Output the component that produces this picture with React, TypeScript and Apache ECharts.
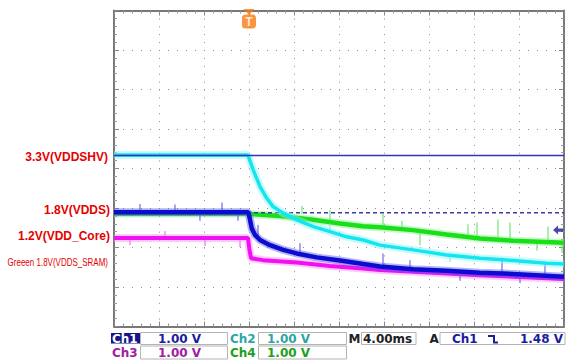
import React, { useEffect, useRef } from "react";
import * as echarts from "echarts";

// Time axis in ms (4.00 ms/div, 10 divisions); vertical axis in screen divisions (1.00 V/div, 8 divisions)

// Ch2 (cyan) 3.3V(VDDSHV)
const ch2Time = [0, 11.91, 12.38, 12.98, 13.57, 14.16, 15.05, 16.24, 17.72, 19.2, 20.68, 22.16, 23.64, 26.58, 29.57, 32.53, 35.47, 38.46, 40];
const ch2Div = [4.34, 4.34, 3.96, 3.54, 3.25, 3.03, 2.87, 2.7, 2.53, 2.4, 2.27, 2.19, 2.06, 1.94, 1.81, 1.73, 1.67, 1.6, 1.58];

// Ch1 (blue) 1.8V(VDDS)
const ch1Time = [0, 11.94, 12.09, 12.24, 12.53, 12.98, 13.87, 15.05, 16.24, 18.02, 20.09, 22.16, 23.64, 26.58, 29.57, 32.53, 35.47, 40];
const ch1Div = [2.89, 2.89, 2.7, 2.49, 2.32, 2.19, 2.06, 1.94, 1.85, 1.75, 1.67, 1.58, 1.52, 1.45, 1.41, 1.36, 1.33, 1.26];

// Ch4 (green) 1.8V(VDDS_SRAM)
const ch4Time = [0, 11.91, 12.09, 14.76, 17.69, 20.09, 22.13, 23.64, 26.58, 29.57, 32.53, 35.47, 40];
const ch4Div = [2.86, 2.86, 2.85, 2.8, 2.7, 2.61, 2.54, 2.51, 2.44, 2.33, 2.23, 2.17, 2.12];

// Ch3 (magenta) 1.2V(VDD_Core)
const ch3Time = [0, 11.91, 12.04, 12.18, 13.24, 16.24, 19.2, 22.13, 23.64, 32.53, 40];
const ch3Div = [2.24, 2.24, 1.94, 1.73, 1.68, 1.62, 1.53, 1.47, 1.43, 1.3, 1.2];

// noise spikes: [time ms, from div, to div]
const ch4Spikes = [
  [16.71, 2.85, 3.05], [19.2, 2.67, 2.95], [23.91, 2.51, 2.85], [25.6, 2.46, 2.68], [27.2, 2.41, 2.06],
  [31.47, 2.28, 2.59], [32.27, 2.25, 2.63], [34.13, 2.2, 2.71], [35.2, 2.18, 2.63], [37.6, 2.15, 1.92],
  [38.58, 2.12, 2.53], [39.82, 2.11, 1.86],
];
const ch1Spikes = [
  [2.31, 2.89, 3.1], [5.42, 2.89, 3.09], [7.64, 2.89, 2.68], [9.6, 2.89, 3.14], [11.02, 2.89, 2.68],
  [12.8, 2.2, 2.57], [16.53, 1.86, 2.11], [23.91, 1.52, 1.85], [26.31, 1.46, 1.68], [30.76, 1.41, 1.16],
  [34.49, 1.36, 1.75], [36.09, 1.33, 1.1], [38.31, 1.3, 1.62],
];
const ch3Spikes = [
  [1.42, 2.24, 2.06], [4.53, 2.24, 2.42], [8.09, 2.24, 2.04], [11.2, 2.24, 2.01],
];
const ch2Spikes = [
  [19.2, 2.4, 2.6], [29.87, 1.81, 1.63],
];

// cursors / markers
const cursorSolidDiv = 4.33;
const cursorDashedDiv = 2.88;
const triggerTime = 12;
const triggerLevelDiv = 2.44;
const triggerArrowTime = 39.47;

const labels = ["3.3V(VDDSHV)", "1.8V(VDDS)", "1.2V(VDD_Core)", "Greeen 1.8V(VDDS_SRAM)"];
const scaleTexts = ["1.00 V", "1.00 V", "1.00 V", "1.00 V"];
const timebase = "4.00ms";
const triggerText = "1.48 V";

const zip = (xs: number[], ys: number[]) => xs.map((x, i) => [x, ys[i]]);

function trace(name: string, xs: number[], ys: number[], core: string, halo: string, coreW: number, z: number) {
  return [
    {
      name: name + "-halo",
      type: "line",
      data: zip(xs, ys),
      showSymbol: false,
      symbol: "none",
      lineStyle: { color: halo, width: 8, opacity: 0.45 },
      z,
      silent: true,
    },
    {
      name,
      type: "line",
      data: zip(xs, ys),
      showSymbol: false,
      symbol: "none",
      lineStyle: { color: core, width: coreW },
      z: z + 0.5,
      silent: true,
    },
  ];
}

function spikes(name: string, data: number[][], color: string, z: number) {
  return {
    name,
    type: "custom",
    z,
    silent: true,
    data,
    renderItem: (_p: any, api: any) => {
      const a = api.coord([api.value(0), api.value(1)]);
      const b = api.coord([api.value(0), api.value(2)]);
      return {
        type: "line",
        shape: { x1: a[0], y1: a[1], x2: b[0], y2: b[1] },
        style: { stroke: color, lineWidth: 1.2 },
      };
    },
  };
}

export default function App() {
  const ref = useRef<HTMLDivElement>(null);
  useEffect(() => {
    if (!ref.current) return;
    const chart = echarts.init(ref.current, null, { renderer: "svg" });
    const frame = "#787878";
    const axisBase = {
      type: "value",
      min: 0,
      axisLabel: { show: false },
      axisLine: { show: true, onZero: false, lineStyle: { color: frame, width: 2 } },
      axisTick: { show: true, inside: true, length: 5, lineStyle: { color: "#888" } },
      minorTick: { show: true, splitNumber: 5, length: 3, lineStyle: { color: "#999" } },
    };
    const statusFont = 'bold 12px "DejaVu Sans"';
    const txt = (text: string, x: number, y: number, fill: string, align = "left") => ({
      type: "text",
      x,
      y,
      z: 100,
      style: { text, fill, font: statusFont, align, verticalAlign: "middle" },
    });
    const box = (x: number, y: number, w: number, h: number) => ({
      type: "rect",
      z: 90,
      shape: { x, y, width: w, height: h },
      style: { fill: "#fff", stroke: "#b4b4b4", lineWidth: 1 },
    });
    const lblFont = 'bold 12px "Liberation Sans"';
    const red = "#e60000";
    chart.setOption({
      animation: false,
      backgroundColor: "#ffffff",
      grid: { left: 114, top: 10.5, width: 450, height: 316, containLabel: false },
      xAxis: [
        {
          ...axisBase,
          max: 40,
          interval: 4,
          position: "bottom",
          splitLine: { show: true, lineStyle: { color: "#8c8c8c", width: 1, type: [1, 6.9] } },
        },
        { ...axisBase, max: 40, interval: 4, position: "top", splitLine: { show: false } },
      ],
      yAxis: [
        {
          ...axisBase,
          max: 8,
          interval: 1,
          position: "left",
          splitLine: { show: true, lineStyle: { color: "#8c8c8c", width: 1, type: [1, 8] } },
        },
        { ...axisBase, max: 8, interval: 1, position: "right", splitLine: { show: false } },
      ],
      series: [
        spikes("Ch3-noise", ch3Spikes, "#f070f0", 1.8),
        ...trace("Ch3", ch3Time, ch3Div, "#f010f0", "#ff8cff", 4, 2),
        spikes("Ch4-noise", ch4Spikes, "#70e870", 2.8),
        ...trace("Ch4", ch4Time, ch4Div, "#18e018", "#8cf08c", 4.5, 3),
        {
          name: "cursorDashed",
          type: "line",
          data: [
            [0, cursorDashedDiv],
            [40, cursorDashedDiv],
          ],
          showSymbol: false,
          symbol: "none",
          lineStyle: { color: "#3a3aa8", width: 1.5, type: [4, 3] },
          z: 4,
        },
        spikes("Ch1-noise", ch1Spikes, "#6a6af0", 4.8),
        ...trace("Ch1", ch1Time, ch1Div, "#0c0cd0", "#5a5af0", 4.5, 5),
        spikes("Ch2-noise", ch2Spikes, "#70eef6", 5.8),
        ...trace("Ch2", ch2Time, ch2Div, "#14e6f0", "#8cf4fa", 3.5, 6),
        {
          name: "cursorSolid",
          type: "line",
          data: [
            [0, cursorSolidDiv],
            [40, cursorSolidDiv],
          ],
          showSymbol: false,
          symbol: "none",
          lineStyle: { color: "#3434b4", width: 1.5 },
          z: 8,
        },
        {
          name: "markers",
          type: "scatter",
          z: 9,
          clip: false,
          data: [
            {
              value: [triggerTime, 7.96],
              symbol: "triangle",
              symbolRotate: 180,
              symbolSize: [11, 6],
              itemStyle: { color: "#f77b10" },
            },
            {
              value: [triggerTime, 7.72],
              symbol: "roundRect",
              symbolSize: [14, 14],
              itemStyle: { color: "#f77b10" },
              label: {
                show: true,
                position: "inside",
                formatter: "T",
                color: "#fff",
                fontWeight: "bold",
                fontSize: 12,
                fontFamily: "Liberation Sans",
              },
            },
            {
              value: [triggerArrowTime, triggerLevelDiv],
              symbol: "path://M0,4 L5,0 L5,2.5 L10,2.5 L10,5.5 L5,5.5 L5,8 Z",
              symbolSize: [10, 9],
              itemStyle: { color: "#1a1a96" },
            },
          ],
        },
      ],
      graphic: [
        { type: "text", x: 108, y: 156.5, style: { text: labels[0], fill: red, font: lblFont, align: "right", verticalAlign: "middle" } },
        { type: "text", x: 110, y: 210, style: { text: labels[1], fill: red, font: lblFont, align: "right", verticalAlign: "middle" } },
        { type: "text", x: 110, y: 236, style: { text: labels[2], fill: red, font: lblFont, align: "right", verticalAlign: "middle" } },
        {
          type: "text",
          x: 108,
          y: 262.5,
          scaleX: 0.8,
          style: { text: labels[3], fill: red, font: '10px "Liberation Sans"', align: "right", verticalAlign: "middle" },
        },
        // status bar
        { type: "rect", z: 90, shape: { x: 111, y: 333, width: 29, height: 10.5 }, style: { fill: "#14148c" } },
        txt("Ch1", 112, 338.5, "#ffffff"),
        box(140.5, 332.5, 87, 12),
        txt(scaleTexts[0], 158, 338.8, "#1c1ca0"),
        txt("Ch2", 230, 338.5, "#2ba6a6"),
        box(258.5, 332.5, 88, 12),
        txt(scaleTexts[1], 267, 338.8, "#2ba6a6"),
        txt("M", 348.5, 338.5, "#222222"),
        box(361.5, 332.5, 54.5, 12),
        txt(timebase, 363, 338.8, "#222222"),
        txt("A", 429.5, 338.5, "#222222"),
        box(440, 332.5, 125, 12),
        txt("Ch1", 452, 338.8, "#1c1ca0"),
        {
          type: "polyline",
          z: 100,
          shape: { points: [[488, 336], [494, 336], [494, 342.5], [498, 342.5]] },
          style: { stroke: "#1c1ca0", lineWidth: 2, fill: "none" },
        },
        txt(triggerText, 563, 338.8, "#1c1ca0", "right"),
        txt("Ch3", 112, 352.7, "#a020a0"),
        box(140.5, 346, 87, 13),
        txt(scaleTexts[2], 158, 353, "#a020a0"),
        txt("Ch4", 230, 352.7, "#20a020"),
        box(258.5, 346, 88, 13),
        txt(scaleTexts[3], 267, 353, "#20a020"),
      ],
    });
    return () => chart.dispose();
  }, []);
  return (
    <div
      ref={ref}
      style={{ position: "fixed", left: 0, top: 0, width: 572, height: 364, background: "#fff" }}
    />
  );
}
